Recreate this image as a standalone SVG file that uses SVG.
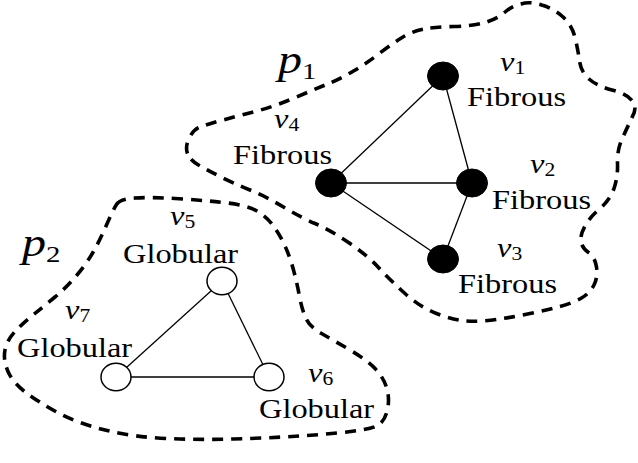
<svg xmlns="http://www.w3.org/2000/svg" width="638" height="463" viewBox="0 0 638 463" font-family="'Liberation Serif', 'Times New Roman', serif">
<style>
.region{fill:none;stroke:#000;stroke-width:3.6;stroke-dasharray:11 8;stroke-linecap:butt}
.edge{stroke:#000;stroke-width:1.3;fill:none}
.fib{fill:#000;stroke:#000;stroke-width:1}
.glob{fill:#fff;stroke:#000;stroke-width:1.5}
.lbl{font-size:27px}
.it{font-style:italic}
.sub{font-size:18px}
.pl{font-size:40px}
.psub{font-size:24px}
</style>
<rect width="638" height="463" fill="#fff"/>
<g id="p1">
<path class="region" d="M187.5,153.5 Q185,147 189,138.5 Q193,130 199,127.5 Q205,125 217.5,121.5 Q230,118 251.5,112.5 Q273,107 293,98.5 Q313,90 326.5,84.5 Q340,79 353.5,71 Q367,63 380,53 Q393,43 403,37 Q413,31 424,29 Q435,27 454,26.5 Q473,26 485,22.5 Q497,19 504.5,12.5 Q512,6 521,4 Q530,1 541.5,5 Q553,8 562.5,16.5 Q572,25 575,37.5 Q578,50 579.5,61 Q581,72 589,79 Q597,86 612,90 Q627,94 632,100.5 Q638,107 632,117.5 Q627,128 622,139 Q617,150 617.5,163.5 Q618,177 614,188.5 Q610,200 600,208.5 Q590,217 585,226 Q580,235 581,241.5 Q582,248 588.5,252.5 Q595,257 596.5,267 Q598,277 594,285 Q590,293 581.5,298 Q573,303 560,306.5 Q547,310 530,313.5 Q513,317 496.5,319.5 Q480,322 466.5,321 Q453,320 436.5,313.5 Q420,307 405,293.5 Q390,280 378.5,267.5 Q367,255 348.5,242.5 Q330,230 315,223.5 Q300,217 283.5,207 Q267,197 250,190 Q233,183 220,176.5 Q207,170 198.5,165 Q190,160 187.5,153.5 Z"/>
<text transform="translate(278,73) scale(1.2 1)"><tspan class="pl it">p</tspan><tspan class="psub" dy="6">1</tspan></text>
</g>
<g id="p2">
<path class="region" d="M116.5,204.5 Q120,199 135,198 Q150,197 175,198.5 Q200,200 223.5,202.5 Q247,205 257,211 Q267,217 273.5,226 Q280,235 285,246 Q290,257 293.5,270 Q297,283 299.5,296.5 Q302,310 306,318.5 Q310,327 321.5,333.5 Q333,340 350,350 Q367,360 375.5,369 Q384,378 387,389 Q390,400 387,411.5 Q384,423 375.5,426.5 Q367,430 342,432.5 Q317,435 292,436.5 Q267,438 233.5,439 Q200,440 166.5,438.5 Q133,437 105,430 Q77,423 58.5,413 Q40,403 26.5,393 Q13,383 8,371.5 Q3,360 5,350 Q7,340 15,331.5 Q23,323 33,315 Q43,307 55,297 Q67,287 77,275 Q87,263 93.5,251.5 Q100,240 106.5,225 Q113,210 116.5,204.5 Z"/>
<text transform="translate(22,256) scale(1.2 1)"><tspan class="pl it">p</tspan><tspan class="psub" dy="6">2</tspan></text>
</g>
<g id="connectors">
<line class="edge" x1="443" y1="76" x2="331" y2="183"/>
<line class="edge" x1="443" y1="76" x2="472" y2="183"/>
<line class="edge" x1="331" y1="183" x2="472" y2="183"/>
<line class="edge" x1="331" y1="183" x2="443" y2="259"/>
<line class="edge" x1="472" y1="183" x2="443" y2="259"/>
<line class="edge" x1="222" y1="281" x2="116" y2="377"/>
<line class="edge" x1="222" y1="281" x2="269" y2="377"/>
<line class="edge" x1="116" y1="377" x2="269" y2="377"/>
</g>
<g id="v1">
<ellipse class="fib" cx="443" cy="76" rx="15.5" ry="14"/>
<text class="lbl" transform="translate(500,71) scale(1.2 1)"><tspan class="it">v</tspan><tspan class="sub" dy="3">1</tspan></text>
<text class="lbl" transform="translate(467,106) scale(1.2 1)">Fibrous</text>
</g>
<g id="v2">
<ellipse class="fib" cx="472" cy="183" rx="15.5" ry="14"/>
<text class="lbl" transform="translate(530,173) scale(1.2 1)"><tspan class="it">v</tspan><tspan class="sub" dy="3">2</tspan></text>
<text class="lbl" transform="translate(492,209) scale(1.2 1)">Fibrous</text>
</g>
<g id="v3">
<ellipse class="fib" cx="443" cy="259" rx="15.5" ry="14"/>
<text class="lbl" transform="translate(497,257) scale(1.2 1)"><tspan class="it">v</tspan><tspan class="sub" dy="3">3</tspan></text>
<text class="lbl" transform="translate(458,293) scale(1.2 1)">Fibrous</text>
</g>
<g id="v4">
<ellipse class="fib" cx="331" cy="183" rx="15.5" ry="14"/>
<text class="lbl" transform="translate(274,128) scale(1.2 1)"><tspan class="it">v</tspan><tspan class="sub" dy="3">4</tspan></text>
<text class="lbl" transform="translate(233,164) scale(1.2 1)">Fibrous</text>
</g>
<g id="v5">
<ellipse class="glob" cx="222" cy="281" rx="15" ry="13.7"/>
<text class="lbl" transform="translate(170,225) scale(1.2 1)"><tspan class="it">v</tspan><tspan class="sub" dy="3">5</tspan></text>
<text class="lbl" transform="translate(123,263) scale(1.2 1)">Globular</text>
</g>
<g id="v6">
<ellipse class="glob" cx="269" cy="377" rx="15" ry="13.7"/>
<text class="lbl" transform="translate(308,382) scale(1.2 1)"><tspan class="it">v</tspan><tspan class="sub" dy="3">6</tspan></text>
<text class="lbl" transform="translate(259,418) scale(1.2 1)">Globular</text>
</g>
<g id="v7">
<ellipse class="glob" cx="116" cy="377" rx="15" ry="13.7"/>
<text class="lbl" transform="translate(65,319) scale(1.2 1)"><tspan class="it">v</tspan><tspan class="sub" dy="3">7</tspan></text>
<text class="lbl" transform="translate(17,357) scale(1.2 1)">Globular</text>
</g>
</svg>
